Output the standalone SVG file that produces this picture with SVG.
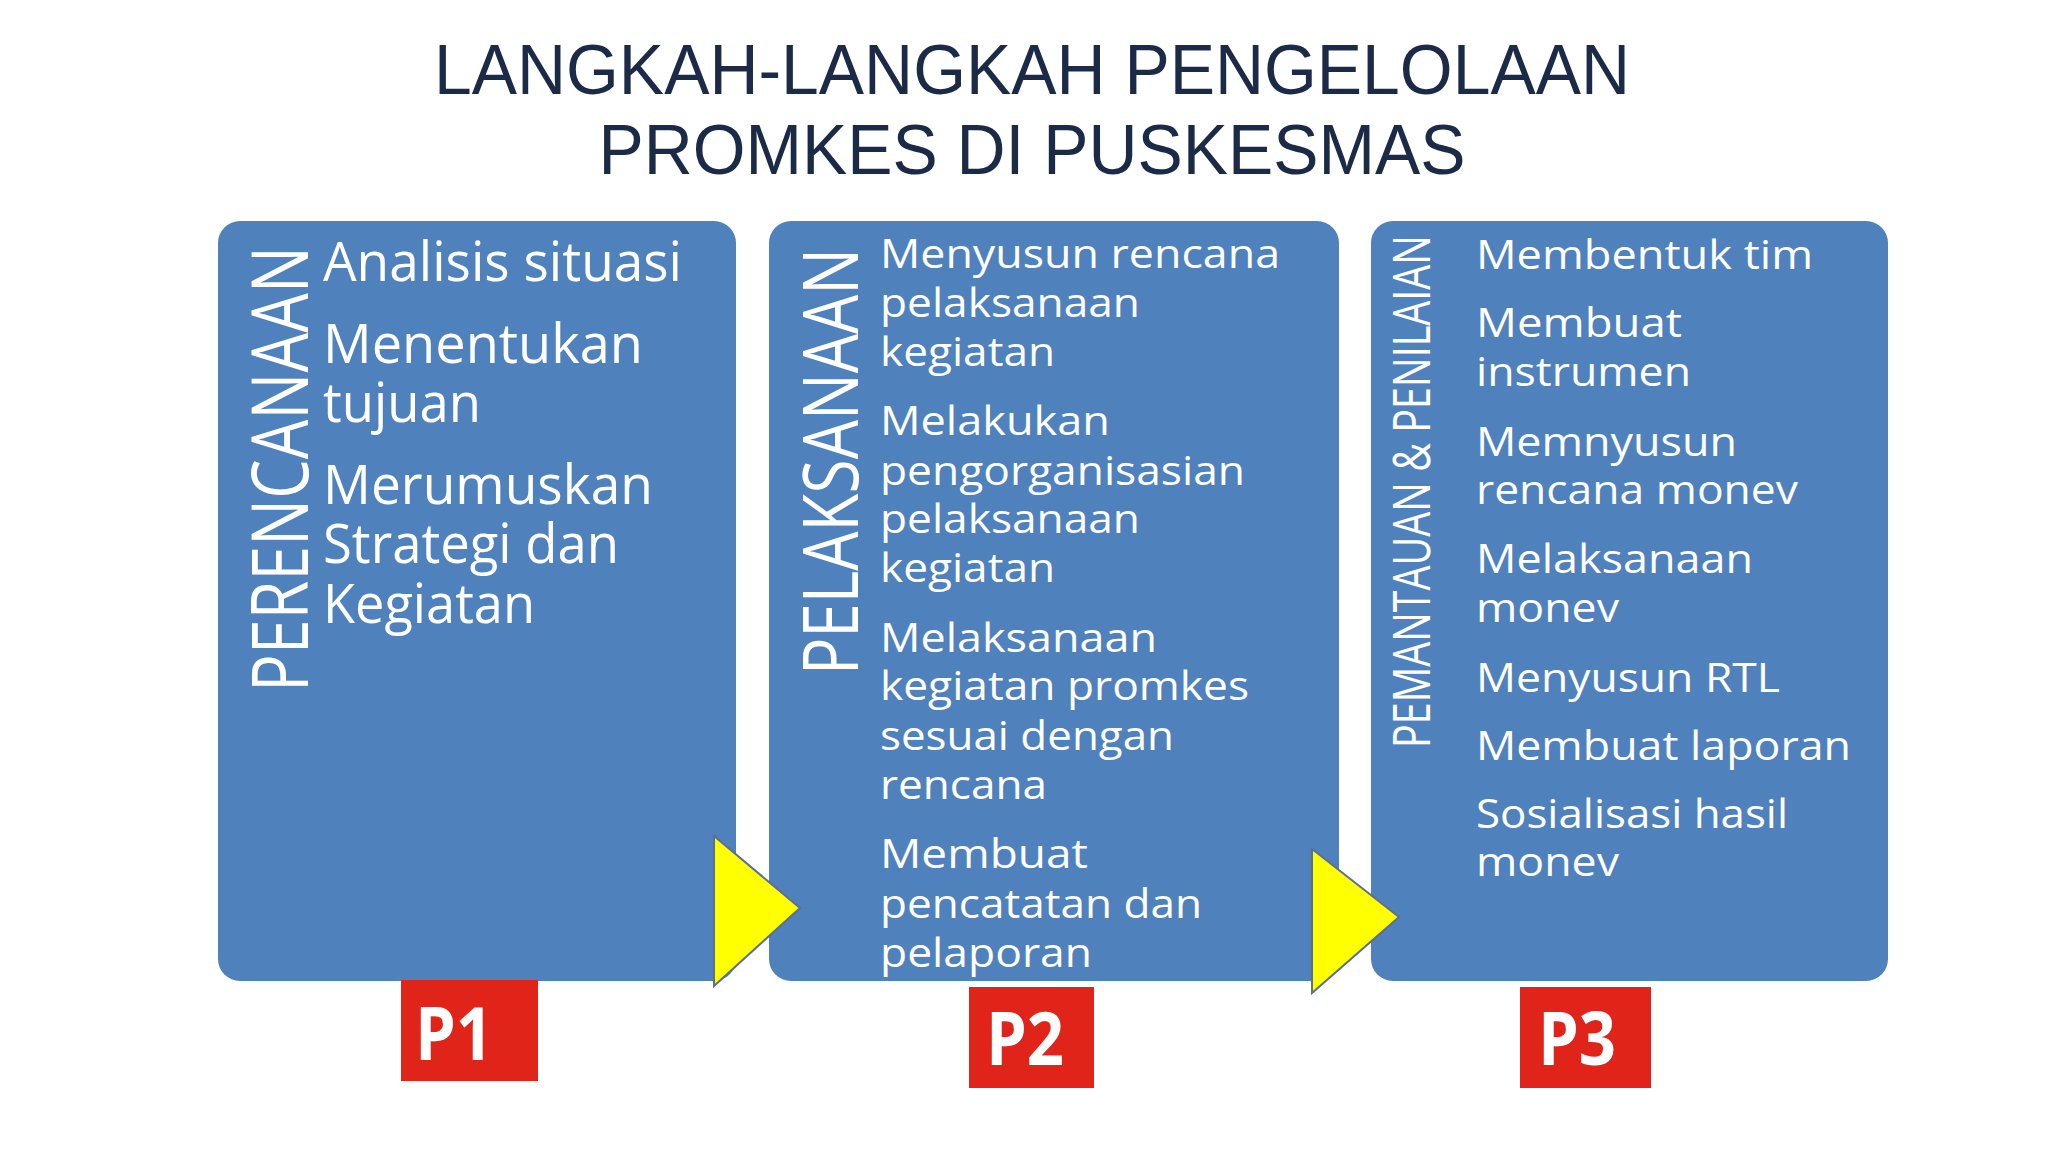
<svg xmlns="http://www.w3.org/2000/svg" width="2048" height="1152" viewBox="0 0 2048 1152">
<style>
.title{font-family:"Liberation Sans",Arial,sans-serif;font-size:70px;fill:#1b2a47;text-anchor:middle}
.box{fill:#4f81bd}
.t1{font-family:"Open Sans","Liberation Sans",sans-serif;font-size:54px;fill:#ffffff}
.t2{font-family:"Open Sans","Liberation Sans",sans-serif;font-size:41px;fill:#ffffff}
.vl{font-family:"Open Sans","Liberation Sans",sans-serif;fill:#ffffff}
.arrow{fill:#ffff00;stroke:#5b6f96;stroke-width:2}
.tag{fill:#e0241a}
.tagt{font-family:"Open Sans","Liberation Sans",sans-serif;font-weight:bold;font-size:74px;fill:#ffffff;text-anchor:middle}
</style>
<rect width="2048" height="1152" fill="#ffffff"/>
<g id="title">
<text class="title" x="1032" y="94" textLength="1196" lengthAdjust="spacingAndGlyphs">LANGKAH-LANGKAH PENGELOLAAN</text>
<text class="title" x="1032" y="174" textLength="867" lengthAdjust="spacingAndGlyphs">PROMKES DI PUSKESMAS</text>
</g>
<g id="node-perencanaan">
<rect class="box" x="218" y="221" width="518" height="760" rx="22"/>
<text class="vl" font-size="78" transform="translate(308,692) rotate(-90)" textLength="446" lengthAdjust="spacingAndGlyphs">PERENCANAAN</text>
<text class="t1" x="323" y="281" textLength="359" lengthAdjust="spacingAndGlyphs">Analisis situasi</text>
<text class="t1" x="323" y="363" textLength="320" lengthAdjust="spacingAndGlyphs">Menentukan</text>
<text class="t1" x="323" y="422" textLength="158" lengthAdjust="spacingAndGlyphs">tujuan</text>
<text class="t1" x="323" y="504" textLength="330" lengthAdjust="spacingAndGlyphs">Merumuskan</text>
<text class="t1" x="323" y="563" textLength="296" lengthAdjust="spacingAndGlyphs">Strategi dan</text>
<text class="t1" x="323" y="623" textLength="212" lengthAdjust="spacingAndGlyphs">Kegiatan</text>
</g>
<g id="node-pelaksanaan">
<rect class="box" x="769" y="221" width="570" height="760" rx="22"/>
<text class="vl" font-size="76" transform="translate(858,675) rotate(-90)" textLength="427" lengthAdjust="spacingAndGlyphs">PELAKSANAAN</text>
<text class="t2" x="880" y="268" textLength="400" lengthAdjust="spacingAndGlyphs">Menyusun rencana</text>
<text class="t2" x="880" y="317" textLength="260" lengthAdjust="spacingAndGlyphs">pelaksanaan</text>
<text class="t2" x="880" y="366" textLength="175" lengthAdjust="spacingAndGlyphs">kegiatan</text>
<text class="t2" x="880" y="435" textLength="230" lengthAdjust="spacingAndGlyphs">Melakukan</text>
<text class="t2" x="880" y="485" textLength="365" lengthAdjust="spacingAndGlyphs">pengorganisasian</text>
<text class="t2" x="880" y="533" textLength="260" lengthAdjust="spacingAndGlyphs">pelaksanaan</text>
<text class="t2" x="880" y="582" textLength="175" lengthAdjust="spacingAndGlyphs">kegiatan</text>
<text class="t2" x="880" y="652" textLength="277" lengthAdjust="spacingAndGlyphs">Melaksanaan</text>
<text class="t2" x="880" y="700" textLength="369" lengthAdjust="spacingAndGlyphs">kegiatan promkes</text>
<text class="t2" x="880" y="750" textLength="294" lengthAdjust="spacingAndGlyphs">sesuai dengan</text>
<text class="t2" x="880" y="799" textLength="167" lengthAdjust="spacingAndGlyphs">rencana</text>
<text class="t2" x="880" y="868" textLength="208" lengthAdjust="spacingAndGlyphs">Membuat</text>
<text class="t2" x="880" y="918" textLength="322" lengthAdjust="spacingAndGlyphs">pencatatan dan</text>
<text class="t2" x="880" y="967" textLength="212" lengthAdjust="spacingAndGlyphs">pelaporan</text>
</g>
<g id="node-pemantauan">
<rect class="box" x="1371" y="221" width="517" height="760" rx="22"/>
<text class="vl" font-size="52" transform="translate(1430,748) rotate(-90)" textLength="513" lengthAdjust="spacingAndGlyphs">PEMANTAUAN &amp; PENILAIAN</text>
<text class="t2" x="1476" y="269" textLength="337" lengthAdjust="spacingAndGlyphs">Membentuk tim</text>
<text class="t2" x="1476" y="337" textLength="206" lengthAdjust="spacingAndGlyphs">Membuat</text>
<text class="t2" x="1476" y="386" textLength="215" lengthAdjust="spacingAndGlyphs">instrumen</text>
<text class="t2" x="1476" y="456" textLength="261" lengthAdjust="spacingAndGlyphs">Memnyusun</text>
<text class="t2" x="1476" y="504" textLength="322" lengthAdjust="spacingAndGlyphs">rencana monev</text>
<text class="t2" x="1476" y="573" textLength="277" lengthAdjust="spacingAndGlyphs">Melaksanaan</text>
<text class="t2" x="1476" y="622" textLength="143" lengthAdjust="spacingAndGlyphs">monev</text>
<text class="t2" x="1476" y="692" textLength="304" lengthAdjust="spacingAndGlyphs">Menyusun RTL</text>
<text class="t2" x="1476" y="760" textLength="375" lengthAdjust="spacingAndGlyphs">Membuat laporan</text>
<text class="t2" x="1476" y="828" textLength="312" lengthAdjust="spacingAndGlyphs">Sosialisasi hasil</text>
<text class="t2" x="1476" y="876" textLength="143" lengthAdjust="spacingAndGlyphs">monev</text>
</g>
<g id="connectors">
<polygon class="arrow" points="714,836 800,908 714,986"/>
<polygon class="arrow" points="1312,849 1399,917 1312,993"/>
</g>
<g id="node-p1">
<rect class="tag" x="401" y="980" width="137" height="101"/>
<text class="tagt" x="454" y="1060" textLength="78" lengthAdjust="spacingAndGlyphs">P1</text>
</g>
<g id="node-p2">
<rect class="tag" x="969" y="987" width="125" height="101"/>
<text class="tagt" x="1025" y="1065" textLength="78" lengthAdjust="spacingAndGlyphs">P2</text>
</g>
<g id="node-p3">
<rect class="tag" x="1520" y="987" width="131" height="101"/>
<text class="tagt" x="1577" y="1065" textLength="78" lengthAdjust="spacingAndGlyphs">P3</text>
</g>
</svg>
